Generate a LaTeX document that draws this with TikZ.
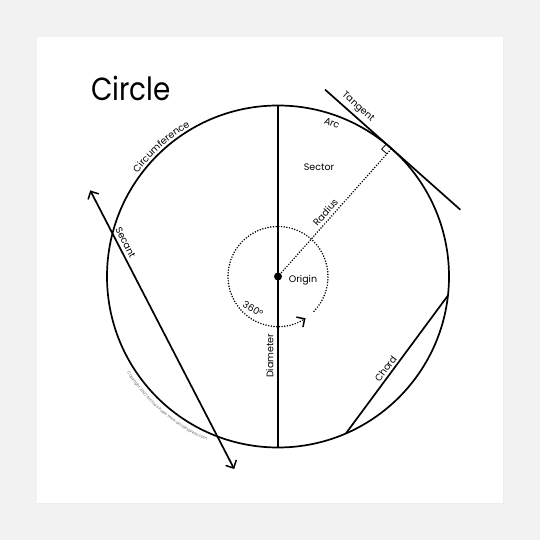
\documentclass[tikz,border=0pt]{standalone}
\usepackage{fontspec}
\setmainfont{Poppins}
\usetikzlibrary{arrows.meta,decorations.text,calc}
\newcommand{\lblfont}{\fontsize{9.5}{11}\selectfont}
\newcommand{\cpyfont}{\fontsize{4.0}{5}\selectfont}
\definecolor{bggray}{HTML}{F2F2F2}
\tikzset{mybarb/.tip={Straight Barb[length=6pt,width=12pt,line width=1.5pt]}}
\begin{document}
\begin{tikzpicture}[x=1pt,y=1pt,
  every node/.style={inner sep=0pt, outer sep=0pt},
  lbl/.style={font=\lblfont},
  thickline/.style={line width=1.7pt},
  dotline/.style={line width=1.7pt, dash pattern=on 0pt off 2.7pt, line cap=round}
]
\useasboundingbox (0,0) rectangle (540,540);
\fill[bggray] (0,0) rectangle (540,540);
\fill[black!7] (37.5,36) rectangle (504,502.5);
\fill[white] (37,37) rectangle (503,503);

\coordinate (C) at (278,263.5);
\node[font=\fontsize{32}{36}\selectfont, anchor=base west, xscale=0.87] (title) at (91,439.5) {Circle};

\node[circle, draw, thickline, minimum size=342pt] (circ) at (C) {};

% diameter
\draw[thickline] (circ.south) -- node[lbl, pos=0.268, sloped, above=4.5pt] (dlab) {Diameter} (circ.north);

% radius and tangent
\coordinate (T) at ($(C)+(48.4:171)$);
\draw[dotline] (C) -- node[lbl, pos=0.465, sloped, above=3.5pt] (rlab) {Radius} (T);
\draw[line width=0.8pt] ($(T)+(228.4:7)$) -- ++(138.4:7) -- ++(48.4:7);
\coordinate (t1) at ($(T)+(138.4:89)$);
\coordinate (t2) at ($(T)+(-41.6:92)$);
\draw[thickline] (t1) -- node[lbl, pos=0.2, sloped, above=4pt] (tlab) {Tangent} (t2);

% labels
\node[lbl, rotate=-22] (arclab) at (332,417) {Arc};
\node[lbl] (seclab) at (319,372.6) {Sector};
\node[lbl] (olab) at (303,259.4) {Origin};
\node[lbl, rotate=-30] (deg) at (253,231) {360°};

% origin dot
\node[circle, fill=black, minimum size=8pt] (O) at (C) {};

% 360 arc
\draw[dotline, -{mybarb}] ($(C)+(-44:50)$) arc[start angle=-44, end angle=303.4, radius=50];

% secant
\coordinate (s1) at (90.2,349.6);
\coordinate (s2) at (234.2,71);
\draw[thickline, {mybarb}-{mybarb}] (s1) -- node[lbl, pos=0.2, sloped, above=4pt] (slab) {Secant} (s2);

% chord
\coordinate (c1) at ($(C)+(-66.6:171)$);
\coordinate (c2) at ($(C)+(-6.4:171)$);
\draw[thickline] (c1) -- node[lbl, pos=0.44, sloped, above=3pt] (clab) {Chord} (c2);

% circumference
\path[decorate, decoration={text along path, text align=center, text={|\lblfont|Circumference}}]
  ($(C)+(150:174)$) arc[start angle=150, end angle=114, radius=174];

% copyright
\path[decorate, decoration={text along path, text align=center, text color=black!60, text={|\cpyfont|Copyright 2007 Archie's Press www.archiespress.com}}]
  ($(C)+(199.5:179)$) arc[start angle=199.5, end angle=259.5, radius=179];
\end{tikzpicture}
\end{document}
